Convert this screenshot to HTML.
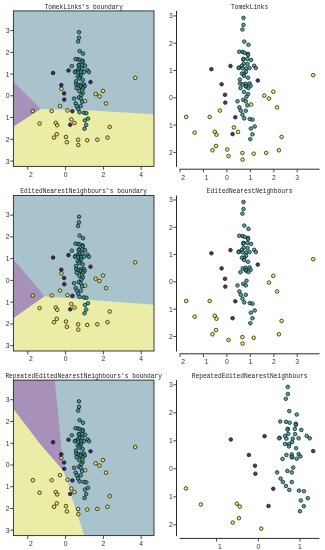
<!DOCTYPE html>
<html><head><meta charset="utf-8"><title>Under-sampling boundaries</title>
<style>
html,body{margin:0;padding:0;background:#fff;}
body{width:325px;height:550px;overflow:hidden;}
svg{display:block;}
.pt circle{fill-opacity:.8;stroke-opacity:.85}
.tk text{font-family:"Liberation Sans","DejaVu Sans",sans-serif;font-size:6.8px;fill:#333;}
.tt{font-family:"Liberation Mono","DejaVu Sans Mono",monospace;font-size:6.233px;fill:#222;}
</style></head><body>
<svg width="325" height="550" viewBox="0 0 325 550">
<rect width="325" height="550" fill="#fff"/>
<defs>
<clipPath id="c0"><rect x="13.4" y="10.9" width="140.6" height="155.5"/></clipPath>
</defs>
<g transform="translate(0,0.0)">
<g clip-path="url(#c0)">
<rect x="13.4" y="10.9" width="140.6" height="155.5" fill="#a9c3cd"/>
<polygon points="13.4,81.9 40.8,109.1 13.4,126.8" fill="#a891b9"/>
<polygon points="13.4,126.8 40.8,109.1 92.0,110.5 154.0,114.2 154.0,166.4 13.4,166.4" fill="#ebeca6"/>
<g stroke="#15151f" stroke-width="0.9" class="pt">
<g fill="#fde725"><circle cx="135.2" cy="77.8" r="1.80"/><circle cx="103.0" cy="90.9" r="1.80"/><circle cx="95.7" cy="94.1" r="1.80"/><circle cx="99.5" cy="96.4" r="1.80"/><circle cx="106.0" cy="103.5" r="1.80"/><circle cx="85.1" cy="101.1" r="1.80"/><circle cx="109.7" cy="126.9" r="1.80"/><circle cx="107.5" cy="137.6" r="1.80"/><circle cx="97.3" cy="139.7" r="1.80"/><circle cx="87.2" cy="140.3" r="1.80"/><circle cx="78.1" cy="139.8" r="1.80"/><circle cx="78.3" cy="145.0" r="1.80"/><circle cx="66.0" cy="137.0" r="1.80"/><circle cx="66.9" cy="142.2" r="1.80"/><circle cx="56.8" cy="134.2" r="1.80"/><circle cx="54.0" cy="137.6" r="1.80"/><circle cx="55.8" cy="122.9" r="1.80"/><circle cx="57.2" cy="125.2" r="1.80"/><circle cx="39.6" cy="123.5" r="1.80"/><circle cx="32.8" cy="111.0" r="1.80"/><circle cx="51.7" cy="111.0" r="1.80"/><circle cx="59.9" cy="106.0" r="1.80"/><circle cx="71.3" cy="119.4" r="1.80"/><circle cx="74.5" cy="123.0" r="1.80"/><circle cx="61.4" cy="88.8" r="1.80"/><circle cx="67.5" cy="110.5" r="1.80"/><circle cx="82.2" cy="90.0" r="1.80"/></g>
<g fill="#280355"><circle cx="53.1" cy="73.0" r="1.80"/><circle cx="68.5" cy="70.5" r="1.80"/><circle cx="61.3" cy="85.1" r="1.80"/><circle cx="64.1" cy="93.4" r="1.80"/><circle cx="64.3" cy="99.6" r="1.80"/><circle cx="72.4" cy="111.3" r="1.80"/><circle cx="70.2" cy="124.7" r="1.80"/><circle cx="90.5" cy="82.1" r="1.80"/></g>
<g fill="#1f9a8a"><circle cx="79.0" cy="32.2" r="1.80"/><circle cx="79.0" cy="37.7" r="1.80"/><circle cx="78.1" cy="41.4" r="1.80"/><circle cx="79.6" cy="51.0" r="1.80"/><circle cx="83.0" cy="53.6" r="1.80"/><circle cx="75.5" cy="59.0" r="1.80"/><circle cx="78.1" cy="59.3" r="1.80"/><circle cx="79.8" cy="60.0" r="1.80"/><circle cx="82.6" cy="60.8" r="1.80"/><circle cx="82.7" cy="61.7" r="1.80"/><circle cx="79.0" cy="64.8" r="1.80"/><circle cx="78.8" cy="65.3" r="1.80"/><circle cx="82.1" cy="64.8" r="1.80"/><circle cx="85.1" cy="65.6" r="1.80"/><circle cx="79.2" cy="68.6" r="1.80"/><circle cx="82.3" cy="68.8" r="1.80"/><circle cx="77.7" cy="70.2" r="1.80"/><circle cx="87.5" cy="70.2" r="1.80"/><circle cx="75.2" cy="71.7" r="1.80"/><circle cx="75.0" cy="72.1" r="1.80"/><circle cx="78.3" cy="72.4" r="1.80"/><circle cx="81.2" cy="72.4" r="1.80"/><circle cx="83.9" cy="72.1" r="1.80"/><circle cx="88.9" cy="72.1" r="1.80"/><circle cx="81.0" cy="75.1" r="1.80"/><circle cx="79.5" cy="76.6" r="1.80"/><circle cx="77.7" cy="76.6" r="1.80"/><circle cx="79.5" cy="78.4" r="1.80"/><circle cx="82.7" cy="79.8" r="1.80"/><circle cx="76.1" cy="81.3" r="1.80"/><circle cx="76.1" cy="84.3" r="1.80"/><circle cx="78.3" cy="85.1" r="1.80"/><circle cx="80.7" cy="84.6" r="1.80"/><circle cx="83.9" cy="84.3" r="1.80"/><circle cx="84.7" cy="86.2" r="1.80"/><circle cx="81.0" cy="86.9" r="1.80"/><circle cx="80.7" cy="86.4" r="1.80"/><circle cx="83.0" cy="88.0" r="1.80"/><circle cx="76.6" cy="88.1" r="1.80"/><circle cx="79.3" cy="91.1" r="1.80"/><circle cx="82.7" cy="92.8" r="1.80"/><circle cx="81.4" cy="94.9" r="1.80"/><circle cx="78.8" cy="97.4" r="1.80"/><circle cx="80.8" cy="98.6" r="1.80"/><circle cx="74.1" cy="98.6" r="1.80"/><circle cx="82.1" cy="101.8" r="1.80"/><circle cx="75.7" cy="103.4" r="1.80"/><circle cx="76.8" cy="106.0" r="1.80"/><circle cx="80.8" cy="106.1" r="1.80"/><circle cx="78.1" cy="109.2" r="1.80"/><circle cx="79.6" cy="112.2" r="1.80"/><circle cx="84.0" cy="112.8" r="1.80"/><circle cx="86.3" cy="113.2" r="1.80"/><circle cx="88.0" cy="118.6" r="1.80"/><circle cx="84.9" cy="120.4" r="1.80"/><circle cx="86.2" cy="124.9" r="1.80"/><circle cx="84.5" cy="128.7" r="1.80"/><circle cx="71.8" cy="66.1" r="1.80"/></g>
</g></g>
<rect x="13.4" y="10.9" width="140.6" height="155.5" fill="none" stroke="#262626" stroke-width="0.9"/>
<g stroke="#2a2a2a" stroke-width="0.85">
<line x1="10.2" x2="13.4" y1="161.05" y2="161.05"/>
<line x1="10.2" x2="13.4" y1="139.30" y2="139.30"/>
<line x1="10.2" x2="13.4" y1="117.55" y2="117.55"/>
<line x1="10.2" x2="13.4" y1="95.80" y2="95.80"/>
<line x1="10.2" x2="13.4" y1="74.05" y2="74.05"/>
<line x1="10.2" x2="13.4" y1="52.30" y2="52.30"/>
<line x1="10.2" x2="13.4" y1="30.55" y2="30.55"/>
<line x1="27.80" x2="27.80" y1="166.4" y2="169.9"/>
<line x1="65.60" x2="65.60" y1="166.4" y2="169.9"/>
<line x1="103.40" x2="103.40" y1="166.4" y2="169.9"/>
<line x1="141.20" x2="141.20" y1="166.4" y2="169.9"/>
</g>
<g class="tk">
<text x="9.6" y="163.5" text-anchor="end">3</text>
<text x="9.6" y="141.7" text-anchor="end">2</text>
<text x="9.6" y="120.0" text-anchor="end">1</text>
<text x="9.6" y="98.2" text-anchor="end">0</text>
<text x="9.6" y="76.5" text-anchor="end">1</text>
<text x="9.6" y="54.7" text-anchor="end">2</text>
<text x="9.6" y="32.9" text-anchor="end">3</text>
<text x="31.0" y="176.5" text-anchor="middle">2</text>
<text x="65.6" y="176.5" text-anchor="middle">0</text>
<text x="103.4" y="176.5" text-anchor="middle">2</text>
<text x="141.2" y="176.5" text-anchor="middle">4</text>
</g>
<text class="tt" transform="translate(83.70,8.8) scale(1,1.18)" text-anchor="middle">TomekLinks's boundary</text>
<g stroke="#15151f" stroke-width="0.9" class="pt">
<g fill="#fde725"><circle cx="313.2" cy="75.2" r="1.80"/><circle cx="273.3" cy="91.7" r="1.80"/><circle cx="264.3" cy="95.6" r="1.80"/><circle cx="269.0" cy="98.5" r="1.80"/><circle cx="277.1" cy="107.4" r="1.80"/><circle cx="251.1" cy="104.5" r="1.80"/><circle cx="281.6" cy="136.9" r="1.80"/><circle cx="278.9" cy="150.3" r="1.80"/><circle cx="266.2" cy="152.9" r="1.80"/><circle cx="253.7" cy="153.7" r="1.80"/><circle cx="242.4" cy="153.0" r="1.80"/><circle cx="242.6" cy="159.6" r="1.80"/><circle cx="227.3" cy="149.5" r="1.80"/><circle cx="228.5" cy="156.1" r="1.80"/><circle cx="216.0" cy="146.0" r="1.80"/><circle cx="212.5" cy="150.3" r="1.80"/><circle cx="214.8" cy="131.8" r="1.80"/><circle cx="216.5" cy="134.7" r="1.80"/><circle cx="194.6" cy="132.6" r="1.80"/><circle cx="186.2" cy="116.9" r="1.80"/><circle cx="209.7" cy="116.9" r="1.80"/><circle cx="219.8" cy="110.6" r="1.80"/><circle cx="233.9" cy="127.4" r="1.80"/><circle cx="238.0" cy="131.9" r="1.80"/></g>
<g fill="#280355"><circle cx="211.4" cy="69.2" r="1.80"/><circle cx="230.5" cy="66.0" r="1.80"/><circle cx="221.6" cy="84.3" r="1.80"/><circle cx="225.0" cy="94.8" r="1.80"/><circle cx="225.3" cy="102.6" r="1.80"/><circle cx="235.3" cy="117.3" r="1.80"/><circle cx="232.6" cy="134.1" r="1.80"/><circle cx="257.8" cy="80.5" r="1.80"/></g>
<g fill="#1f9a8a"><circle cx="243.5" cy="17.9" r="1.80"/><circle cx="243.5" cy="24.9" r="1.80"/><circle cx="242.4" cy="29.5" r="1.80"/><circle cx="244.3" cy="41.6" r="1.80"/><circle cx="248.5" cy="44.8" r="1.80"/><circle cx="239.2" cy="51.7" r="1.80"/><circle cx="242.5" cy="51.9" r="1.80"/><circle cx="244.5" cy="52.9" r="1.80"/><circle cx="247.9" cy="53.8" r="1.80"/><circle cx="248.1" cy="54.9" r="1.80"/><circle cx="243.5" cy="58.9" r="1.80"/><circle cx="243.3" cy="59.6" r="1.80"/><circle cx="247.4" cy="58.9" r="1.80"/><circle cx="251.1" cy="59.9" r="1.80"/><circle cx="243.8" cy="63.7" r="1.80"/><circle cx="247.6" cy="63.9" r="1.80"/><circle cx="241.9" cy="65.7" r="1.80"/><circle cx="254.1" cy="65.7" r="1.80"/><circle cx="238.9" cy="67.6" r="1.80"/><circle cx="238.6" cy="68.0" r="1.80"/><circle cx="242.7" cy="68.4" r="1.80"/><circle cx="246.3" cy="68.4" r="1.80"/><circle cx="249.6" cy="68.0" r="1.80"/><circle cx="255.8" cy="68.0" r="1.80"/><circle cx="246.0" cy="71.8" r="1.80"/><circle cx="244.1" cy="73.6" r="1.80"/><circle cx="241.9" cy="73.6" r="1.80"/><circle cx="244.1" cy="76.0" r="1.80"/><circle cx="248.1" cy="77.7" r="1.80"/><circle cx="239.9" cy="79.6" r="1.80"/><circle cx="239.9" cy="83.4" r="1.80"/><circle cx="242.7" cy="84.3" r="1.80"/><circle cx="245.7" cy="83.8" r="1.80"/><circle cx="249.6" cy="83.4" r="1.80"/><circle cx="250.6" cy="85.7" r="1.80"/><circle cx="246.0" cy="86.6" r="1.80"/><circle cx="245.7" cy="86.1" r="1.80"/><circle cx="248.5" cy="88.0" r="1.80"/><circle cx="240.5" cy="88.1" r="1.80"/><circle cx="243.9" cy="91.9" r="1.80"/><circle cx="248.1" cy="94.0" r="1.80"/><circle cx="246.5" cy="96.6" r="1.80"/><circle cx="243.2" cy="99.8" r="1.80"/><circle cx="245.8" cy="101.3" r="1.80"/><circle cx="237.5" cy="101.3" r="1.80"/><circle cx="247.4" cy="105.4" r="1.80"/><circle cx="239.4" cy="107.4" r="1.80"/><circle cx="240.7" cy="110.6" r="1.80"/><circle cx="245.8" cy="110.8" r="1.80"/><circle cx="242.5" cy="114.6" r="1.80"/><circle cx="244.3" cy="118.4" r="1.80"/><circle cx="249.8" cy="119.1" r="1.80"/><circle cx="252.5" cy="119.6" r="1.80"/><circle cx="254.7" cy="126.5" r="1.80"/><circle cx="250.8" cy="128.6" r="1.80"/><circle cx="252.5" cy="134.3" r="1.80"/><circle cx="250.3" cy="139.1" r="1.80"/></g>
</g>
<g stroke="#2a2a2a" stroke-width="1" fill="none">
<line x1="176.5" x2="176.5" y1="10.9" y2="166.9"/>
<line x1="179.6" x2="319.6" y1="169.2" y2="169.2"/>
</g>
<g stroke="#2a2a2a" stroke-width="0.85">
<line x1="173.3" x2="176.5" y1="152.40" y2="152.40"/>
<line x1="173.3" x2="176.5" y1="125.10" y2="125.10"/>
<line x1="173.3" x2="176.5" y1="97.80" y2="97.80"/>
<line x1="173.3" x2="176.5" y1="70.50" y2="70.50"/>
<line x1="173.3" x2="176.5" y1="43.20" y2="43.20"/>
<line x1="173.3" x2="176.5" y1="15.90" y2="15.90"/>
<line x1="180.00" x2="180.00" y1="169.2" y2="172.4"/>
<line x1="203.45" x2="203.45" y1="169.2" y2="172.4"/>
<line x1="226.90" x2="226.90" y1="169.2" y2="172.4"/>
<line x1="250.35" x2="250.35" y1="169.2" y2="172.4"/>
<line x1="273.80" x2="273.80" y1="169.2" y2="172.4"/>
<line x1="297.25" x2="297.25" y1="169.2" y2="172.4"/>
</g>
<g class="tk">
<text x="172.7" y="154.8" text-anchor="end">2</text>
<text x="172.7" y="127.5" text-anchor="end">1</text>
<text x="172.7" y="100.2" text-anchor="end">0</text>
<text x="172.7" y="72.9" text-anchor="end">1</text>
<text x="172.7" y="45.6" text-anchor="end">2</text>
<text x="172.7" y="18.3" text-anchor="end">3</text>
<text x="183.2" y="179.6" text-anchor="middle">2</text>
<text x="206.7" y="179.6" text-anchor="middle">1</text>
<text x="226.9" y="179.6" text-anchor="middle">0</text>
<text x="250.3" y="179.6" text-anchor="middle">1</text>
<text x="273.8" y="179.6" text-anchor="middle">2</text>
<text x="297.2" y="179.6" text-anchor="middle">3</text>
</g>
<text class="tt" transform="translate(249.60,8.8) scale(1,1.18)" text-anchor="middle">TomekLinks</text>
</g>
<g transform="translate(0,184.6)">
<g clip-path="url(#c0)">
<rect x="13.4" y="10.9" width="140.6" height="155.5" fill="#a9c3cd"/>
<polygon points="13.4,74.7 44.6,111.6 13.4,133.6" fill="#a891b9"/>
<polygon points="13.4,133.6 44.6,111.6 82.0,114.7 154.0,120.2 154.0,166.4 13.4,166.4" fill="#ebeca6"/>
<g stroke="#15151f" stroke-width="0.9" class="pt">
<g fill="#fde725"><circle cx="135.2" cy="77.8" r="1.80"/><circle cx="103.0" cy="90.9" r="1.80"/><circle cx="95.7" cy="94.1" r="1.80"/><circle cx="99.5" cy="96.4" r="1.80"/><circle cx="106.0" cy="103.5" r="1.80"/><circle cx="85.1" cy="101.1" r="1.80"/><circle cx="109.7" cy="126.9" r="1.80"/><circle cx="107.5" cy="137.6" r="1.80"/><circle cx="97.3" cy="139.7" r="1.80"/><circle cx="87.2" cy="140.3" r="1.80"/><circle cx="78.1" cy="139.8" r="1.80"/><circle cx="78.3" cy="145.0" r="1.80"/><circle cx="66.0" cy="137.0" r="1.80"/><circle cx="66.9" cy="142.2" r="1.80"/><circle cx="56.8" cy="134.2" r="1.80"/><circle cx="54.0" cy="137.6" r="1.80"/><circle cx="55.8" cy="122.9" r="1.80"/><circle cx="57.2" cy="125.2" r="1.80"/><circle cx="39.6" cy="123.5" r="1.80"/><circle cx="32.8" cy="111.0" r="1.80"/><circle cx="51.7" cy="111.0" r="1.80"/><circle cx="59.9" cy="106.0" r="1.80"/><circle cx="71.3" cy="119.4" r="1.80"/><circle cx="74.5" cy="123.0" r="1.80"/><circle cx="61.4" cy="88.8" r="1.80"/><circle cx="67.5" cy="110.5" r="1.80"/><circle cx="82.2" cy="90.0" r="1.80"/></g>
<g fill="#280355"><circle cx="53.1" cy="73.0" r="1.80"/><circle cx="68.5" cy="70.5" r="1.80"/><circle cx="61.3" cy="85.1" r="1.80"/><circle cx="64.1" cy="93.4" r="1.80"/><circle cx="64.3" cy="99.6" r="1.80"/><circle cx="72.4" cy="111.3" r="1.80"/><circle cx="70.2" cy="124.7" r="1.80"/><circle cx="90.5" cy="82.1" r="1.80"/></g>
<g fill="#1f9a8a"><circle cx="79.0" cy="32.2" r="1.80"/><circle cx="79.0" cy="37.7" r="1.80"/><circle cx="78.1" cy="41.4" r="1.80"/><circle cx="79.6" cy="51.0" r="1.80"/><circle cx="83.0" cy="53.6" r="1.80"/><circle cx="75.5" cy="59.0" r="1.80"/><circle cx="78.1" cy="59.3" r="1.80"/><circle cx="79.8" cy="60.0" r="1.80"/><circle cx="82.6" cy="60.8" r="1.80"/><circle cx="82.7" cy="61.7" r="1.80"/><circle cx="79.0" cy="64.8" r="1.80"/><circle cx="78.8" cy="65.3" r="1.80"/><circle cx="82.1" cy="64.8" r="1.80"/><circle cx="85.1" cy="65.6" r="1.80"/><circle cx="79.2" cy="68.6" r="1.80"/><circle cx="82.3" cy="68.8" r="1.80"/><circle cx="77.7" cy="70.2" r="1.80"/><circle cx="87.5" cy="70.2" r="1.80"/><circle cx="75.2" cy="71.7" r="1.80"/><circle cx="75.0" cy="72.1" r="1.80"/><circle cx="78.3" cy="72.4" r="1.80"/><circle cx="81.2" cy="72.4" r="1.80"/><circle cx="83.9" cy="72.1" r="1.80"/><circle cx="88.9" cy="72.1" r="1.80"/><circle cx="81.0" cy="75.1" r="1.80"/><circle cx="79.5" cy="76.6" r="1.80"/><circle cx="77.7" cy="76.6" r="1.80"/><circle cx="79.5" cy="78.4" r="1.80"/><circle cx="82.7" cy="79.8" r="1.80"/><circle cx="76.1" cy="81.3" r="1.80"/><circle cx="76.1" cy="84.3" r="1.80"/><circle cx="78.3" cy="85.1" r="1.80"/><circle cx="80.7" cy="84.6" r="1.80"/><circle cx="83.9" cy="84.3" r="1.80"/><circle cx="84.7" cy="86.2" r="1.80"/><circle cx="81.0" cy="86.9" r="1.80"/><circle cx="80.7" cy="86.4" r="1.80"/><circle cx="83.0" cy="88.0" r="1.80"/><circle cx="76.6" cy="88.1" r="1.80"/><circle cx="79.3" cy="91.1" r="1.80"/><circle cx="82.7" cy="92.8" r="1.80"/><circle cx="81.4" cy="94.9" r="1.80"/><circle cx="78.8" cy="97.4" r="1.80"/><circle cx="80.8" cy="98.6" r="1.80"/><circle cx="74.1" cy="98.6" r="1.80"/><circle cx="82.1" cy="101.8" r="1.80"/><circle cx="75.7" cy="103.4" r="1.80"/><circle cx="76.8" cy="106.0" r="1.80"/><circle cx="80.8" cy="106.1" r="1.80"/><circle cx="78.1" cy="109.2" r="1.80"/><circle cx="79.6" cy="112.2" r="1.80"/><circle cx="84.0" cy="112.8" r="1.80"/><circle cx="86.3" cy="113.2" r="1.80"/><circle cx="88.0" cy="118.6" r="1.80"/><circle cx="84.9" cy="120.4" r="1.80"/><circle cx="86.2" cy="124.9" r="1.80"/><circle cx="84.5" cy="128.7" r="1.80"/><circle cx="71.8" cy="66.1" r="1.80"/></g>
</g></g>
<rect x="13.4" y="10.9" width="140.6" height="155.5" fill="none" stroke="#262626" stroke-width="0.9"/>
<g stroke="#2a2a2a" stroke-width="0.85">
<line x1="10.2" x2="13.4" y1="161.05" y2="161.05"/>
<line x1="10.2" x2="13.4" y1="139.30" y2="139.30"/>
<line x1="10.2" x2="13.4" y1="117.55" y2="117.55"/>
<line x1="10.2" x2="13.4" y1="95.80" y2="95.80"/>
<line x1="10.2" x2="13.4" y1="74.05" y2="74.05"/>
<line x1="10.2" x2="13.4" y1="52.30" y2="52.30"/>
<line x1="10.2" x2="13.4" y1="30.55" y2="30.55"/>
<line x1="27.80" x2="27.80" y1="166.4" y2="169.9"/>
<line x1="65.60" x2="65.60" y1="166.4" y2="169.9"/>
<line x1="103.40" x2="103.40" y1="166.4" y2="169.9"/>
<line x1="141.20" x2="141.20" y1="166.4" y2="169.9"/>
</g>
<g class="tk">
<text x="9.6" y="163.5" text-anchor="end">3</text>
<text x="9.6" y="141.7" text-anchor="end">2</text>
<text x="9.6" y="120.0" text-anchor="end">1</text>
<text x="9.6" y="98.2" text-anchor="end">0</text>
<text x="9.6" y="76.5" text-anchor="end">1</text>
<text x="9.6" y="54.7" text-anchor="end">2</text>
<text x="9.6" y="32.9" text-anchor="end">3</text>
<text x="31.0" y="176.5" text-anchor="middle">2</text>
<text x="65.6" y="176.5" text-anchor="middle">0</text>
<text x="103.4" y="176.5" text-anchor="middle">2</text>
<text x="141.2" y="176.5" text-anchor="middle">4</text>
</g>
<text class="tt" transform="translate(83.70,8.8) scale(1,1.18)" text-anchor="middle">EditedNearestNeighbours's boundary</text>
<g stroke="#15151f" stroke-width="0.9" class="pt">
<g fill="#fde725"><circle cx="313.2" cy="74.6" r="1.80"/><circle cx="273.3" cy="91.2" r="1.80"/><circle cx="269.0" cy="98.0" r="1.80"/><circle cx="277.1" cy="106.9" r="1.80"/><circle cx="281.6" cy="136.3" r="1.80"/><circle cx="278.9" cy="149.7" r="1.80"/><circle cx="253.7" cy="153.2" r="1.80"/><circle cx="242.4" cy="152.5" r="1.80"/><circle cx="242.6" cy="159.0" r="1.80"/><circle cx="228.5" cy="155.5" r="1.80"/><circle cx="216.0" cy="145.5" r="1.80"/><circle cx="212.5" cy="149.7" r="1.80"/><circle cx="214.8" cy="131.2" r="1.80"/><circle cx="216.5" cy="134.1" r="1.80"/><circle cx="194.6" cy="132.1" r="1.80"/><circle cx="186.2" cy="116.4" r="1.80"/><circle cx="209.7" cy="116.4" r="1.80"/></g>
<g fill="#280355"><circle cx="211.4" cy="68.7" r="1.80"/><circle cx="230.5" cy="65.5" r="1.80"/><circle cx="221.6" cy="83.8" r="1.80"/><circle cx="225.0" cy="94.2" r="1.80"/><circle cx="225.3" cy="102.0" r="1.80"/><circle cx="235.3" cy="116.7" r="1.80"/><circle cx="232.6" cy="133.6" r="1.80"/><circle cx="257.8" cy="80.0" r="1.80"/></g>
<g fill="#1f9a8a"><circle cx="243.5" cy="17.4" r="1.80"/><circle cx="243.5" cy="24.4" r="1.80"/><circle cx="242.4" cy="29.0" r="1.80"/><circle cx="244.3" cy="41.0" r="1.80"/><circle cx="248.5" cy="44.3" r="1.80"/><circle cx="239.2" cy="51.1" r="1.80"/><circle cx="242.5" cy="51.4" r="1.80"/><circle cx="244.5" cy="52.3" r="1.80"/><circle cx="247.9" cy="53.3" r="1.80"/><circle cx="248.1" cy="54.4" r="1.80"/><circle cx="243.5" cy="58.3" r="1.80"/><circle cx="243.3" cy="59.0" r="1.80"/><circle cx="247.4" cy="58.3" r="1.80"/><circle cx="251.1" cy="59.3" r="1.80"/><circle cx="243.8" cy="63.1" r="1.80"/><circle cx="247.6" cy="63.4" r="1.80"/><circle cx="241.9" cy="65.2" r="1.80"/><circle cx="254.1" cy="65.2" r="1.80"/><circle cx="238.9" cy="67.0" r="1.80"/><circle cx="238.6" cy="67.5" r="1.80"/><circle cx="242.7" cy="67.8" r="1.80"/><circle cx="246.3" cy="67.8" r="1.80"/><circle cx="249.6" cy="67.5" r="1.80"/><circle cx="255.8" cy="67.5" r="1.80"/><circle cx="246.0" cy="71.2" r="1.80"/><circle cx="244.1" cy="73.1" r="1.80"/><circle cx="241.9" cy="73.1" r="1.80"/><circle cx="244.1" cy="75.4" r="1.80"/><circle cx="248.1" cy="77.2" r="1.80"/><circle cx="242.7" cy="83.8" r="1.80"/><circle cx="245.7" cy="83.2" r="1.80"/><circle cx="249.6" cy="82.8" r="1.80"/><circle cx="250.6" cy="85.2" r="1.80"/><circle cx="246.0" cy="86.1" r="1.80"/><circle cx="245.7" cy="85.5" r="1.80"/><circle cx="248.5" cy="87.4" r="1.80"/><circle cx="240.5" cy="87.6" r="1.80"/><circle cx="246.5" cy="96.1" r="1.80"/><circle cx="243.2" cy="99.3" r="1.80"/><circle cx="245.8" cy="100.8" r="1.80"/><circle cx="237.5" cy="100.8" r="1.80"/><circle cx="239.4" cy="106.8" r="1.80"/><circle cx="240.7" cy="110.1" r="1.80"/><circle cx="245.8" cy="110.2" r="1.80"/><circle cx="242.5" cy="114.0" r="1.80"/><circle cx="244.3" cy="117.8" r="1.80"/><circle cx="249.8" cy="118.5" r="1.80"/><circle cx="252.5" cy="119.1" r="1.80"/><circle cx="254.7" cy="125.9" r="1.80"/><circle cx="250.8" cy="128.1" r="1.80"/><circle cx="252.5" cy="133.7" r="1.80"/><circle cx="250.3" cy="138.6" r="1.80"/></g>
</g>
<g stroke="#2a2a2a" stroke-width="1" fill="none">
<line x1="176.5" x2="176.5" y1="10.9" y2="166.9"/>
<line x1="179.6" x2="319.6" y1="169.2" y2="169.2"/>
</g>
<g stroke="#2a2a2a" stroke-width="0.85">
<line x1="173.3" x2="176.5" y1="151.85" y2="151.85"/>
<line x1="173.3" x2="176.5" y1="124.55" y2="124.55"/>
<line x1="173.3" x2="176.5" y1="97.25" y2="97.25"/>
<line x1="173.3" x2="176.5" y1="69.95" y2="69.95"/>
<line x1="173.3" x2="176.5" y1="42.65" y2="42.65"/>
<line x1="173.3" x2="176.5" y1="15.35" y2="15.35"/>
<line x1="180.00" x2="180.00" y1="169.2" y2="172.4"/>
<line x1="203.45" x2="203.45" y1="169.2" y2="172.4"/>
<line x1="226.90" x2="226.90" y1="169.2" y2="172.4"/>
<line x1="250.35" x2="250.35" y1="169.2" y2="172.4"/>
<line x1="273.80" x2="273.80" y1="169.2" y2="172.4"/>
<line x1="297.25" x2="297.25" y1="169.2" y2="172.4"/>
</g>
<g class="tk">
<text x="172.7" y="154.2" text-anchor="end">2</text>
<text x="172.7" y="127.0" text-anchor="end">1</text>
<text x="172.7" y="99.7" text-anchor="end">0</text>
<text x="172.7" y="72.4" text-anchor="end">1</text>
<text x="172.7" y="45.0" text-anchor="end">2</text>
<text x="172.7" y="17.7" text-anchor="end">3</text>
<text x="183.2" y="179.6" text-anchor="middle">2</text>
<text x="206.7" y="179.6" text-anchor="middle">1</text>
<text x="226.9" y="179.6" text-anchor="middle">0</text>
<text x="250.3" y="179.6" text-anchor="middle">1</text>
<text x="273.8" y="179.6" text-anchor="middle">2</text>
<text x="297.2" y="179.6" text-anchor="middle">3</text>
</g>
<text class="tt" transform="translate(249.60,8.8) scale(1,1.18)" text-anchor="middle">EditedNearestNeighbours</text>
</g>
<g transform="translate(0,369.2)">
<g clip-path="url(#c0)">
<rect x="13.4" y="10.9" width="140.6" height="155.5" fill="#a9c3cd"/>
<polygon points="13.4,10.9 54.8,10.9 60.7,70.8 63.1,101.2 40.0,74.8 13.4,39.7" fill="#a891b9"/>
<polygon points="13.4,39.7 40.0,74.8 63.1,101.2 67.7,113.2 72.3,129.8 84.3,166.4 13.4,166.4" fill="#ebeca6"/>
<g stroke="#15151f" stroke-width="0.9" class="pt">
<g fill="#fde725"><circle cx="135.2" cy="77.8" r="1.80"/><circle cx="103.0" cy="90.9" r="1.80"/><circle cx="95.7" cy="94.1" r="1.80"/><circle cx="99.5" cy="96.4" r="1.80"/><circle cx="106.0" cy="103.5" r="1.80"/><circle cx="85.1" cy="101.1" r="1.80"/><circle cx="109.7" cy="126.9" r="1.80"/><circle cx="107.5" cy="137.6" r="1.80"/><circle cx="97.3" cy="139.7" r="1.80"/><circle cx="87.2" cy="140.3" r="1.80"/><circle cx="78.1" cy="139.8" r="1.80"/><circle cx="78.3" cy="145.0" r="1.80"/><circle cx="66.0" cy="137.0" r="1.80"/><circle cx="66.9" cy="142.2" r="1.80"/><circle cx="56.8" cy="134.2" r="1.80"/><circle cx="54.0" cy="137.6" r="1.80"/><circle cx="55.8" cy="122.9" r="1.80"/><circle cx="57.2" cy="125.2" r="1.80"/><circle cx="39.6" cy="123.5" r="1.80"/><circle cx="32.8" cy="111.0" r="1.80"/><circle cx="51.7" cy="111.0" r="1.80"/><circle cx="59.9" cy="106.0" r="1.80"/><circle cx="71.3" cy="119.4" r="1.80"/><circle cx="74.5" cy="123.0" r="1.80"/><circle cx="61.4" cy="88.8" r="1.80"/><circle cx="67.5" cy="110.5" r="1.80"/><circle cx="82.2" cy="90.0" r="1.80"/></g>
<g fill="#280355"><circle cx="53.1" cy="73.0" r="1.80"/><circle cx="68.5" cy="70.5" r="1.80"/><circle cx="61.3" cy="85.1" r="1.80"/><circle cx="64.1" cy="93.4" r="1.80"/><circle cx="64.3" cy="99.6" r="1.80"/><circle cx="72.4" cy="111.3" r="1.80"/><circle cx="70.2" cy="124.7" r="1.80"/><circle cx="90.5" cy="82.1" r="1.80"/></g>
<g fill="#1f9a8a"><circle cx="79.0" cy="32.2" r="1.80"/><circle cx="79.0" cy="37.7" r="1.80"/><circle cx="78.1" cy="41.4" r="1.80"/><circle cx="79.6" cy="51.0" r="1.80"/><circle cx="83.0" cy="53.6" r="1.80"/><circle cx="75.5" cy="59.0" r="1.80"/><circle cx="78.1" cy="59.3" r="1.80"/><circle cx="79.8" cy="60.0" r="1.80"/><circle cx="82.6" cy="60.8" r="1.80"/><circle cx="82.7" cy="61.7" r="1.80"/><circle cx="79.0" cy="64.8" r="1.80"/><circle cx="78.8" cy="65.3" r="1.80"/><circle cx="82.1" cy="64.8" r="1.80"/><circle cx="85.1" cy="65.6" r="1.80"/><circle cx="79.2" cy="68.6" r="1.80"/><circle cx="82.3" cy="68.8" r="1.80"/><circle cx="77.7" cy="70.2" r="1.80"/><circle cx="87.5" cy="70.2" r="1.80"/><circle cx="75.2" cy="71.7" r="1.80"/><circle cx="75.0" cy="72.1" r="1.80"/><circle cx="78.3" cy="72.4" r="1.80"/><circle cx="81.2" cy="72.4" r="1.80"/><circle cx="83.9" cy="72.1" r="1.80"/><circle cx="88.9" cy="72.1" r="1.80"/><circle cx="81.0" cy="75.1" r="1.80"/><circle cx="79.5" cy="76.6" r="1.80"/><circle cx="77.7" cy="76.6" r="1.80"/><circle cx="79.5" cy="78.4" r="1.80"/><circle cx="82.7" cy="79.8" r="1.80"/><circle cx="76.1" cy="81.3" r="1.80"/><circle cx="76.1" cy="84.3" r="1.80"/><circle cx="78.3" cy="85.1" r="1.80"/><circle cx="80.7" cy="84.6" r="1.80"/><circle cx="83.9" cy="84.3" r="1.80"/><circle cx="84.7" cy="86.2" r="1.80"/><circle cx="81.0" cy="86.9" r="1.80"/><circle cx="80.7" cy="86.4" r="1.80"/><circle cx="83.0" cy="88.0" r="1.80"/><circle cx="76.6" cy="88.1" r="1.80"/><circle cx="79.3" cy="91.1" r="1.80"/><circle cx="82.7" cy="92.8" r="1.80"/><circle cx="81.4" cy="94.9" r="1.80"/><circle cx="78.8" cy="97.4" r="1.80"/><circle cx="80.8" cy="98.6" r="1.80"/><circle cx="74.1" cy="98.6" r="1.80"/><circle cx="82.1" cy="101.8" r="1.80"/><circle cx="75.7" cy="103.4" r="1.80"/><circle cx="76.8" cy="106.0" r="1.80"/><circle cx="80.8" cy="106.1" r="1.80"/><circle cx="78.1" cy="109.2" r="1.80"/><circle cx="79.6" cy="112.2" r="1.80"/><circle cx="84.0" cy="112.8" r="1.80"/><circle cx="86.3" cy="113.2" r="1.80"/><circle cx="88.0" cy="118.6" r="1.80"/><circle cx="84.9" cy="120.4" r="1.80"/><circle cx="86.2" cy="124.9" r="1.80"/><circle cx="84.5" cy="128.7" r="1.80"/><circle cx="71.8" cy="66.1" r="1.80"/></g>
</g></g>
<rect x="13.4" y="10.9" width="140.6" height="155.5" fill="none" stroke="#262626" stroke-width="0.9"/>
<g stroke="#2a2a2a" stroke-width="0.85">
<line x1="10.2" x2="13.4" y1="161.05" y2="161.05"/>
<line x1="10.2" x2="13.4" y1="139.30" y2="139.30"/>
<line x1="10.2" x2="13.4" y1="117.55" y2="117.55"/>
<line x1="10.2" x2="13.4" y1="95.80" y2="95.80"/>
<line x1="10.2" x2="13.4" y1="74.05" y2="74.05"/>
<line x1="10.2" x2="13.4" y1="52.30" y2="52.30"/>
<line x1="10.2" x2="13.4" y1="30.55" y2="30.55"/>
<line x1="27.80" x2="27.80" y1="166.4" y2="169.9"/>
<line x1="65.60" x2="65.60" y1="166.4" y2="169.9"/>
<line x1="103.40" x2="103.40" y1="166.4" y2="169.9"/>
<line x1="141.20" x2="141.20" y1="166.4" y2="169.9"/>
</g>
<g class="tk">
<text x="9.6" y="163.5" text-anchor="end">3</text>
<text x="9.6" y="141.7" text-anchor="end">2</text>
<text x="9.6" y="120.0" text-anchor="end">1</text>
<text x="9.6" y="98.2" text-anchor="end">0</text>
<text x="9.6" y="76.5" text-anchor="end">1</text>
<text x="9.6" y="54.7" text-anchor="end">2</text>
<text x="9.6" y="32.9" text-anchor="end">3</text>
<text x="31.0" y="176.5" text-anchor="middle">2</text>
<text x="65.6" y="176.5" text-anchor="middle">0</text>
<text x="103.4" y="176.5" text-anchor="middle">2</text>
<text x="141.2" y="176.5" text-anchor="middle">4</text>
</g>
<text class="tt" transform="translate(83.70,8.8) scale(1,1.18)" text-anchor="middle">RepeatedEditedNearestNeighbours's boundary</text>
<g stroke="#15151f" stroke-width="0.9" class="pt">
<g fill="#fde725"><circle cx="261.2" cy="159.4" r="1.80"/><circle cx="238.9" cy="149.0" r="1.80"/><circle cx="232.7" cy="153.4" r="1.80"/><circle cx="236.8" cy="134.5" r="1.80"/><circle cx="239.8" cy="137.4" r="1.80"/><circle cx="200.9" cy="135.3" r="1.80"/><circle cx="185.9" cy="119.2" r="1.80"/></g>
<g fill="#280355"><circle cx="230.8" cy="70.3" r="1.80"/><circle cx="264.6" cy="67.0" r="1.80"/><circle cx="248.9" cy="85.8" r="1.80"/><circle cx="255.0" cy="96.5" r="1.80"/><circle cx="255.4" cy="104.5" r="1.80"/><circle cx="273.3" cy="119.6" r="1.80"/><circle cx="268.5" cy="136.8" r="1.80"/><circle cx="313.2" cy="81.9" r="1.80"/></g>
<g fill="#1f9a8a"><circle cx="287.8" cy="17.7" r="1.80"/><circle cx="287.9" cy="24.8" r="1.80"/><circle cx="285.8" cy="29.6" r="1.80"/><circle cx="289.3" cy="41.9" r="1.80"/><circle cx="296.7" cy="45.3" r="1.80"/><circle cx="280.2" cy="52.3" r="1.80"/><circle cx="286.0" cy="52.6" r="1.80"/><circle cx="289.7" cy="53.5" r="1.80"/><circle cx="295.7" cy="54.5" r="1.80"/><circle cx="296.0" cy="55.6" r="1.80"/><circle cx="287.9" cy="59.7" r="1.80"/><circle cx="287.5" cy="60.4" r="1.80"/><circle cx="294.8" cy="59.7" r="1.80"/><circle cx="301.3" cy="60.7" r="1.80"/><circle cx="288.3" cy="64.6" r="1.80"/><circle cx="295.1" cy="64.9" r="1.80"/><circle cx="285.0" cy="66.7" r="1.80"/><circle cx="306.7" cy="66.7" r="1.80"/><circle cx="279.6" cy="68.6" r="1.80"/><circle cx="279.2" cy="69.1" r="1.80"/><circle cx="286.4" cy="69.4" r="1.80"/><circle cx="292.8" cy="69.4" r="1.80"/><circle cx="298.6" cy="69.1" r="1.80"/><circle cx="309.7" cy="69.1" r="1.80"/><circle cx="292.2" cy="72.9" r="1.80"/><circle cx="288.9" cy="74.8" r="1.80"/><circle cx="285.0" cy="74.8" r="1.80"/><circle cx="288.9" cy="77.2" r="1.80"/><circle cx="296.1" cy="79.0" r="1.80"/><circle cx="286.4" cy="85.8" r="1.80"/><circle cx="291.7" cy="85.2" r="1.80"/><circle cx="298.6" cy="84.8" r="1.80"/><circle cx="300.4" cy="87.2" r="1.80"/><circle cx="292.2" cy="88.1" r="1.80"/><circle cx="291.7" cy="87.6" r="1.80"/><circle cx="296.7" cy="89.5" r="1.80"/><circle cx="282.5" cy="89.7" r="1.80"/><circle cx="293.2" cy="98.4" r="1.80"/><circle cx="287.4" cy="101.7" r="1.80"/><circle cx="291.8" cy="103.2" r="1.80"/><circle cx="277.1" cy="103.2" r="1.80"/><circle cx="280.6" cy="109.4" r="1.80"/><circle cx="282.9" cy="112.8" r="1.80"/><circle cx="291.8" cy="112.9" r="1.80"/><circle cx="286.0" cy="116.8" r="1.80"/><circle cx="289.3" cy="120.7" r="1.80"/><circle cx="299.0" cy="121.4" r="1.80"/><circle cx="303.9" cy="122.0" r="1.80"/><circle cx="307.8" cy="129.0" r="1.80"/><circle cx="300.8" cy="131.2" r="1.80"/><circle cx="303.8" cy="137.0" r="1.80"/><circle cx="300.0" cy="142.0" r="1.80"/></g>
</g>
<g stroke="#2a2a2a" stroke-width="1" fill="none">
<line x1="176.5" x2="176.5" y1="10.9" y2="166.9"/>
<line x1="179.6" x2="319.6" y1="169.2" y2="169.2"/>
</g>
<g stroke="#2a2a2a" stroke-width="0.85">
<line x1="173.3" x2="176.5" y1="155.60" y2="155.60"/>
<line x1="173.3" x2="176.5" y1="127.60" y2="127.60"/>
<line x1="173.3" x2="176.5" y1="99.60" y2="99.60"/>
<line x1="173.3" x2="176.5" y1="71.60" y2="71.60"/>
<line x1="173.3" x2="176.5" y1="43.60" y2="43.60"/>
<line x1="173.3" x2="176.5" y1="15.60" y2="15.60"/>
<line x1="216.60" x2="216.60" y1="169.2" y2="172.4"/>
<line x1="258.30" x2="258.30" y1="169.2" y2="172.4"/>
<line x1="300.00" x2="300.00" y1="169.2" y2="172.4"/>
</g>
<g class="tk">
<text x="172.7" y="158.0" text-anchor="end">2</text>
<text x="172.7" y="130.0" text-anchor="end">1</text>
<text x="172.7" y="102.0" text-anchor="end">0</text>
<text x="172.7" y="74.0" text-anchor="end">1</text>
<text x="172.7" y="46.0" text-anchor="end">2</text>
<text x="172.7" y="18.0" text-anchor="end">3</text>
<text x="219.8" y="179.6" text-anchor="middle">1</text>
<text x="258.3" y="179.6" text-anchor="middle">0</text>
<text x="300.0" y="179.6" text-anchor="middle">1</text>
</g>
<text class="tt" transform="translate(249.60,8.8) scale(1,1.18)" text-anchor="middle">RepeatedEditedNearestNeighbours</text>
</g>
</svg>
</body></html>
